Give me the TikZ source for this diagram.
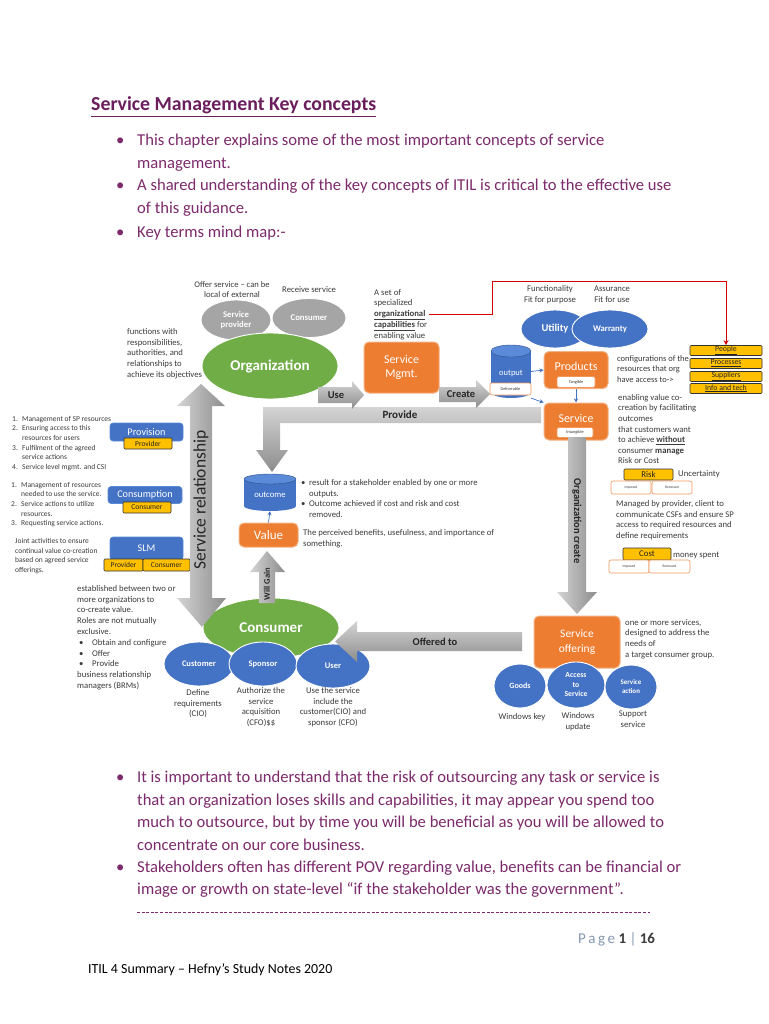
\documentclass[tikz,border=0pt]{standalone}
\usepackage{fontspec}
\setmainfont{Carlito}
\usetikzlibrary{shapes.geometric,arrows.meta}
\definecolor{purp}{HTML}{7D2A6C}
\definecolor{purpd}{HTML}{6A1E5C}
\definecolor{orng}{HTML}{ED7D31}
\definecolor{blu}{HTML}{4472C4}
\definecolor{blul}{HTML}{5B8BD8}
\definecolor{grn}{HTML}{70AD47}
\definecolor{gry}{HTML}{A5A5A5}
\definecolor{yel}{HTML}{FFC000}
\definecolor{dtext}{HTML}{3B3B3B}
\definecolor{arrl}{HTML}{D4D4D4}
\definecolor{arrd}{HTML}{8C8C8C}
\definecolor{pagec}{HTML}{8497B0}
\newcommand{\fs}[2]{\fontsize{#1}{#2}\selectfont}
\newcommand{\nm}[1]{\makebox[10pt][l]{#1}}
\newcommand{\ind}{\hspace*{10pt}}
\newcommand{\bl}{\makebox[8pt][l]{•}}
\begin{document}
\begin{tikzpicture}[x=1pt,y=-1pt,
 body/.style={font=\fs{16.6}{20}, text=purp, anchor=base west, inner sep=0},
 txt/.style={font=\fs{8.7}{10.8}, text=dtext, align=left, inner sep=0, anchor=north west},
 txtc/.style={txt, align=center, anchor=north},
 lst/.style={font=\fs{7.5}{9.6}, text=dtext, align=left, inner sep=0, anchor=north west},
 ell/.style={ellipse, inner sep=0, text=white, draw=white, line width=0.9pt, align=center},
 obox/.style={rounded corners=5pt, fill=orng, draw=orng!60!white, line width=1pt, text=white, align=center, inner sep=0},
 bbox/.style={rounded corners=3pt, fill=blu, draw=blul, line width=0.6pt, text=white, inner sep=0, font=\fs{10.2}{12}},
 ytag/.style={rounded corners=1pt, fill=yel, draw=black!80, line width=0.6pt, inner sep=0, text=black!85},
 wtag/.style={rounded corners=2pt, fill=white, draw=orng!80, line width=0.6pt, inner sep=0, text=dtext},
 barrow/.style={-{Stealth[length=4pt,width=4pt]}, blu, line width=0.7pt},
 alab/.style={font=\bfseries\fs{10.5}{12}, text=black!85, inner sep=0},
]
\useasboundingbox (0,0) rectangle (768,1024);
\fill[white] (0,0) rectangle (768,1024);

% ---------- header text ----------
\node[font=\bfseries\fs{19.8}{22}, text=purpd, anchor=base west, inner sep=0] (title) at (91,111) {\underline{Service Management Key concepts}};
\node[body] (bu1) at (116,146) {•};
\node[body] (l1) at (137,146) {This chapter explains some of the most important concepts of service};
\node[body] (l2) at (137,169) {management.};
\node[body] (bu2) at (116,191) {•};
\node[body] (l3) at (137,191) {A shared understanding of the key concepts of ITIL is critical to the effective use};
\node[body] (l4) at (137,214) {of this guidance.};
\node[body] (bu3) at (116,237) {•};
\node[body] (l5) at (137,237) {Key terms mind map:-};

% ---------- top left cluster ----------
\node[txtc, font=\fs{8.6}{10.8}] (offer) at (232,281) {Offer service -- can be\\local of external};
\node[txt] (recv) at (282,286) {Receive service};
\node[ell, fill=gry, minimum width=70, minimum height=40, font=\bfseries\fs{8.7}{10}] (sp) at (236,320) {Service\\provider};
\node[ell, fill=gry, minimum width=74, minimum height=39, font=\bfseries\fs{8.7}{10}] (gcons) at (309,318) {Consumer};
\node[ell, fill=grn, minimum width=136, minimum height=66, font=\bfseries\fs{15}{17}] (org) at (270,366) {Organization};
\node[txt] (func) at (127,328) {functions with\\responsibilities,\\authorities, and\\relationships to\\achieve its objectives};

% ---------- left lists ----------
\node[lst] (list1) at (12,416) {\nm{1.}Management of SP resources\\\nm{2.}Ensuring access to this\\\ind resources for users\\\nm{3.}Fulfilment of the agreed\\\ind service actions\\\nm{4.}Service level mgmt. and CSI};
\node[lst] (list2) at (11,482) {\nm{1.}Management of resources\\\ind needed to use the service.\\\nm{2.}Service actions to utilize\\\ind resources.\\\nm{3.}Requesting service actions.};
\node[lst, font=\fs{7.5}{9.8}] (joint) at (15,538) {Joint activities to ensure\\continual value co-creation\\based on agreed service\\offerings.};

\node[bbox, minimum width=73, minimum height=18] (prov) at (146.5,432) {\raisebox{1pt}{Provision}};
\node[ytag, minimum width=48, minimum height=11, font=\fs{7.5}{8}] (provt) at (148,443.5) {Provider};
\node[bbox, minimum width=74, minimum height=17] (cons) at (145,495) {Consumption};
\node[ytag, minimum width=48, minimum height=11, font=\fs{7.5}{8}] (const) at (147,507.5) {Consumer};
\node[bbox, minimum width=73, minimum height=23] (slm) at (146.5,548.5) {SLM};
\node[ytag, minimum width=39, minimum height=12, font=\fs{7.5}{8}] (slmp) at (123.5,565) {Provider};
\node[ytag, minimum width=47, minimum height=12, font=\fs{7.5}{8}] (slmc) at (166.5,565) {Consumer};

\node[txt] (estab) at (77,585) {established between two or\\more organizations to\\co-create value.\\Roles are not mutually\\exclusive.\\\hspace*{2pt}\bl\hspace{5pt}Obtain and configure\\\hspace*{2pt}\bl\hspace{5pt}Offer\\\hspace*{2pt}\bl\hspace{5pt}Provide\\business relationship\\managers (BRMs)};

% ---------- consumer cluster ----------
\node[ell, fill=grn, minimum width=136, minimum height=60, font=\bfseries\fs{15}{17}] (gcon) at (271,628) {\raisebox{-3pt}{Consumer}};
\node[ell, fill=blu, minimum width=70, minimum height=44, font=\bfseries\fs{8.5}{10}] (cust) at (199,664) {Customer};
\node[ell, fill=blu, minimum width=68, minimum height=44, font=\bfseries\fs{8.5}{10}] (spon) at (263,664) {Sponsor};
\node[ell, fill=blu, minimum width=74, minimum height=44, font=\bfseries\fs{8.5}{10}] (user) at (333,666) {User};
\node[txtc] (custl) at (198,689) {Define\\requirements\\(CIO)};
\node[txtc] (sponl) at (261,687) {Authorize the\\service\\acquisition\\(CFO)\$\$};
\node[txtc] (userl) at (333,687) {Use the service\\include the\\customer(CIO) and\\sponsor (CFO)};

% ---------- service relationship arrow ----------
\shade[left color=arrl, right color=arrd] (201,384) -- (225,406) -- (212,406) -- (212,598) -- (226,598) -- (202,627) -- (177,598) -- (190,598) -- (190,406) -- (177,406) -- cycle;
\node[rotate=90, font=\fs{17.5}{18}, text=black!85, inner sep=0] (srl) at (201,500) {Service relationship};

% ---------- will gain ----------
\shade[left color=arrl, right color=arrd] (267,551) -- (285,572) -- (275,572) -- (275,603) -- (259,603) -- (259,572) -- (250,572) -- cycle;
\node[rotate=90, alab, font=\bfseries\fs{8.5}{10}] (wg) at (267,584) {Will Gain};

% ---------- provide L arrow ----------
\shade[top color=arrl, bottom color=arrd] (263,407) -- (541,407) -- (541,423) -- (280,423) -- (280,450) -- (288,450) -- (272,472) -- (256,450) -- (263,450) -- cycle;
\node[alab, font=\bfseries\fs{11}{12}] (provide) at (400,415) {Provide};

% ---------- use / create arrows ----------
\shade[top color=arrl, bottom color=arrd] (318,387) -- (352,387) -- (352,381) -- (364,395) -- (352,409) -- (352,403) -- (318,403) -- cycle;
\node[alab] (use) at (336,395) {Use};
\shade[top color=arrl, bottom color=arrd] (439,387) -- (476,387) -- (476,380) -- (490,394) -- (476,408) -- (476,402) -- (439,402) -- cycle;
\node[alab] (create) at (461,394) {Create};

% ---------- service mgmt ----------
\node[obox, minimum width=75, minimum height=51, font=\fs{12}{14}] (sm) at (401.5,367.5) {Service\\Mgmt.};
\node[txt] (aset) at (374,289) {A set of\\specialized\\\textbf{\underline{organizational}}\\\textbf{\underline{capabilities}} for\\enabling value};
\coordinate (rs) at (429,314);

% ---------- utility / warranty ----------
\node[txtc] (funcl) at (550,285) {Functionality\\Fit for purpose};
\node[txtc] (assur) at (612,286) {Assurance\\Fit for use};
\node[ell, fill=blu, minimum width=68, minimum height=38, font=\bfseries\fs{10.5}{12}] (util) at (555,329) {Utility};
\node[ell, fill=blu, minimum width=76, minimum height=38, font=\bfseries\fs{8.7}{10}] (warr) at (610,329) {Warranty};

% ---------- output cylinder ----------
\fill[blu] (491,351) rectangle (531,392);
\fill[blu] (511,392) ellipse [x radius=20, y radius=6];
\filldraw[fill=blul, draw=blu!70!black, line width=0.4pt] (511,351) ellipse [x radius=20, y radius=6];
\node[inner sep=0, minimum width=40, minimum height=53] (out) at (511,371.5) {};
\node[text=white, font=\fs{8.5}{10}, inner sep=0] (outt) at (511,373) {output};
\node[wtag, minimum width=41, minimum height=12, font=\fs{4.3}{5}] (deliv) at (510.5,389) {Deliverable};

% ---------- products / service ----------
\node[obox, minimum width=64, minimum height=37] (prod) at (576,370) {};
\node[text=white, font=\fs{12}{14}, inner sep=0] (prodt) at (576,366) {Products};
\node[wtag, minimum width=38, minimum height=11, font=\fs{4.3}{5}] (tang) at (576,382) {Tangible};
\node[obox, minimum width=64, minimum height=37] (serv) at (576,421.5) {};
\node[text=white, font=\fs{12}{14}, inner sep=0] (servt) at (576,418) {Service};
\node[wtag, minimum width=36, minimum height=10, font=\fs{4.3}{5}] (intang) at (575,432.5) {Intangible};
\draw[barrow] (out.east) -- (prod.west);
\draw[barrow] (out.south east) -- (serv.north west);
\draw[barrow] (prod.south) -- (serv.north);

% ---------- people etc ----------
\node[ytag, minimum width=72, minimum height=10, font=\fs{7.8}{8}] (ppl) at (726,350.5) {\underline{People}};
\node[ytag, minimum width=72, minimum height=10, font=\fs{7.8}{8}] (proc) at (726,363.5) {\underline{Processes}};
\node[ytag, minimum width=72, minimum height=10, font=\fs{7.8}{8}] (supp) at (726,376.5) {\underline{Suppliers}};
\node[ytag, minimum width=72, minimum height=10, font=\fs{7.8}{8}] (info) at (726,388.5) {\underline{Info and tech}};
\draw[red!85!black, line width=0.7pt, -{Stealth[length=5pt,width=5pt]}] (rs) -- (492,314) -- (492,281) -- (ppl.north |- 0,281) -- (ppl.north);
\node[txt, font=\fs{8.5}{10.6}] (confg) at (617,355) {configurations of the\\resources that org\\have access to-{}>};

\node[txt, font=\fs{8.7}{10.6}] (enab) at (618,394) {enabling value co-\\creation by facilitating\\outcomes\\that customers want\\to achieve \textbf{\underline{without}}\\consumer \textbf{manage}\\Risk or Cost};

% ---------- risk / cost ----------
\node[ytag, minimum width=49, minimum height=11, font=\fs{8.8}{9}] (risk) at (648.5,474.5) {Risk};
\node[txt, anchor=west] (unc) at (678,474) {Uncertainty};
\node[wtag, minimum width=40, minimum height=13, font=\fs{3.6}{4}] (rimp) at (631,487.5) {Imposed};
\node[wtag, minimum width=40, minimum height=13, font=\fs{3.6}{4}] (rrem) at (672,487.5) {Removed};
\node[txt] (manag) at (616,500) {Managed by provider, client to\\communicate CSFs and ensure SP\\access to required resources and\\define requirements};
\node[ytag, minimum width=48, minimum height=12, font=\fs{8.8}{9}] (cost) at (647,554) {Cost};
\node[txt, anchor=west] (money) at (673,555) {money spent};
\node[wtag, minimum width=40, minimum height=13, font=\fs{3.6}{4}] (cimp) at (629,566.5) {Imposed};
\node[wtag, minimum width=41, minimum height=13, font=\fs{3.6}{4}] (crem) at (669.5,566.5) {Removed};

% ---------- outcome / value ----------
\fill[blu] (244,479) rectangle (296,506);
\fill[blu] (270,506) ellipse [x radius=26, y radius=5];
\filldraw[fill=blul, draw=blu!70!black, line width=0.4pt] (270,479) ellipse [x radius=26, y radius=5];
\node[inner sep=0, minimum width=52, minimum height=37] (outc) at (270,492.5) {};
\node[text=white, font=\fs{8.7}{10}, inner sep=0] (outct) at (270,495) {outcome};
\node[obox, minimum width=59, minimum height=24, font=\fs{13}{14}] (val) at (268.5,535) {Value};
\draw[barrow] (val.north) -- (outc.south);
\node[txt] (outcd) at (301,479) {\bl result for a stakeholder enabled by one or more\\\hspace*{8pt}outputs.\\\bl Outcome achieved if cost and risk and cost\\\hspace*{8pt}removed.};
\node[txt] (perc) at (303,529) {The perceived benefits, usefulness, and importance of\\something.};

% ---------- organization create / offering ----------
\shade[left color=arrl, right color=arrd] (568,437) -- (586,437) -- (586,592) -- (597,592) -- (577,614) -- (557,592) -- (568,592) -- cycle;
\node[rotate=-90, alab] (ocr) at (577,521) {Organization create};
\node[obox, minimum width=86, minimum height=52, font=\fs{11.5}{15}] (soff) at (577,642) {Service\\offering};
\node[txt] (soffd) at (625,619) {one or more services,\\designed to address the\\needs of\\a target consumer group.};
\shade[top color=arrl, bottom color=arrd] (522,632) -- (357,632) -- (357,621) -- (335,641.5) -- (357,662) -- (357,651) -- (522,651) -- cycle;
\node[alab] (offto) at (435,641.5) {Offered to};

\node[ell, fill=blu, minimum width=52, minimum height=44, font=\bfseries\fs{8}{9.5}] (goods) at (520,686) {Goods};
\node[ell, fill=blu, minimum width=58, minimum height=46, font=\bfseries\fs{7.7}{9.5}] (acc) at (576,685) {Access\\to\\Service};
\node[ell, fill=blu, minimum width=52, minimum height=44, font=\bfseries\fs{7}{9}] (sact) at (631,687) {Service\\action};
\node[txtc] (goodsl) at (522,713) {Windows key};
\node[txtc] (accl) at (578,712) {Windows\\update};
\node[txtc] (sactl) at (633,711) {Support\\service};

% ---------- bottom text ----------
\node[body] (bu4) at (116,782) {•};
\node[body] (m1) at (137,782) {It is important to understand that the risk of outsourcing any task or service is};
\node[body] (m2) at (137,805) {that an organization loses skills and capabilities, it may appear you spend too};
\node[body] (m3) at (137,827) {much to outsource, but by time you will be beneficial as you will be allowed to};
\node[body] (m4) at (137,850) {concentrate on our core business.};
\node[body] (bu5) at (116,872) {•};
\node[body] (m5) at (137,872) {Stakeholders often has different POV regarding value, benefits can be financial or};
\node[body] (m6) at (137,894) {image or growth on state-level “if the stakeholder was the government”.};
\coordinate (d1) at (137,912);
\coordinate (d2) at (650,912);
\draw[purp, dash pattern=on 3pt off 1.6pt, line width=0.6pt] (d1) -- (d2);
\node[anchor=base west, font=\fs{15}{18}, inner sep=0] (pg) at (578,943) {\textcolor{pagec}{P\,a\,g\,e} \textbf{\textcolor{dtext}{1}} \textcolor{pagec}{|} \textbf{\textcolor{dtext}{16}}};
\node[anchor=base west, font=\fs{13.9}{16}, inner sep=0, text=black] (foot) at (88,973) {ITIL 4 Summary -- Hefny’s Study Notes 2020};
\end{tikzpicture}
\end{document}
